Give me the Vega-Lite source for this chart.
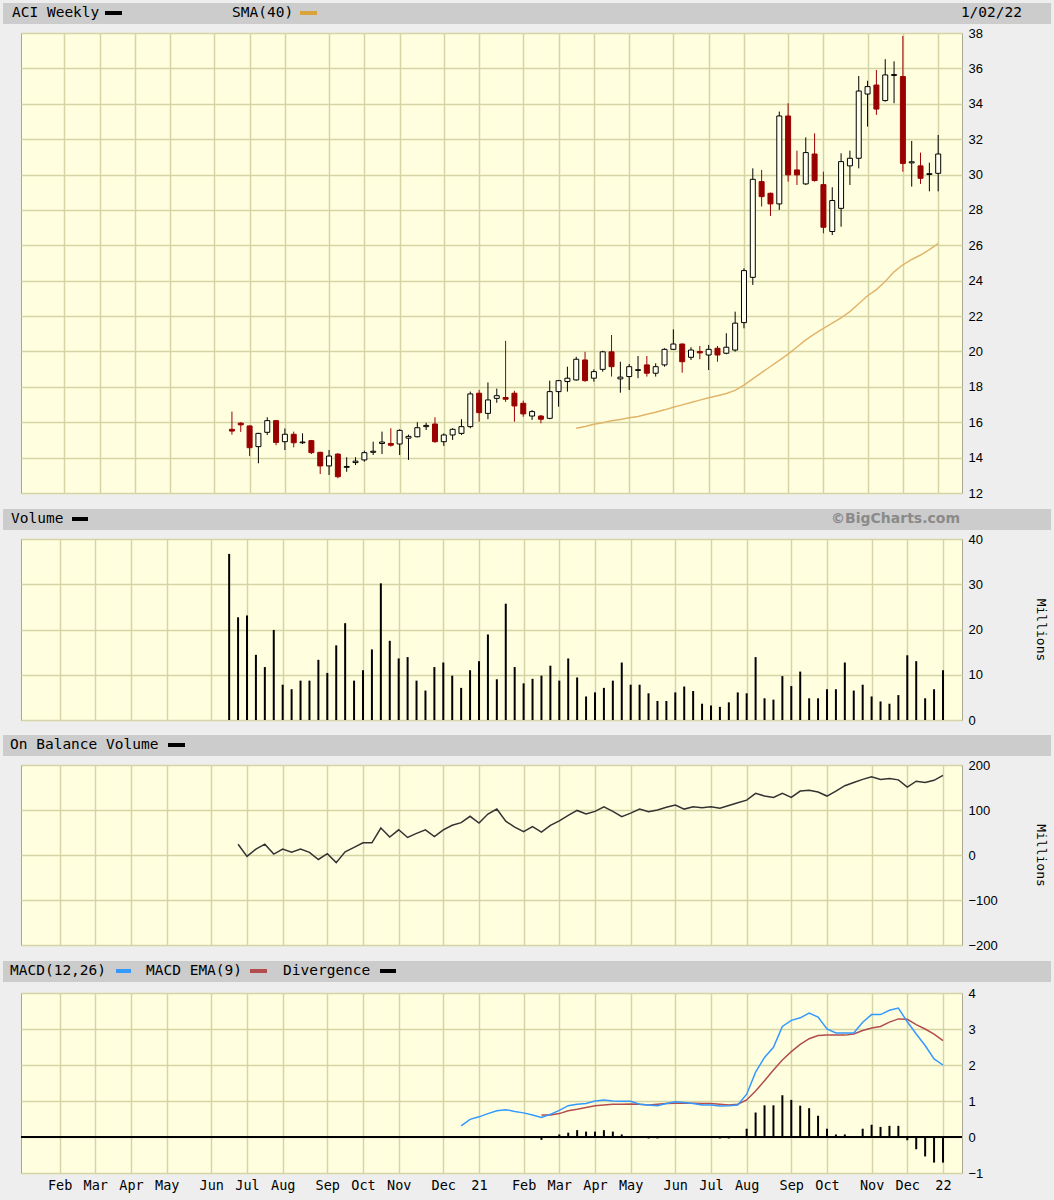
{
"$schema": "https://vega.github.io/schema/vega-lite/v6.json",
"background": "#eeeeee",
"padding": {"left": 3, "top": 3, "right": 3, "bottom": 8},
"spacing": 0,
"config": {
  "view": {"stroke": "#a8a890", "fill": "#ffffe0", "strokeWidth": 1},
  "axis": {"domain": false, "ticks": false, "gridColor": "#d4d4a4", "gridWidth": 1.5, "gridOpacity": 1, "labelFont": "Liberation Sans", "labelFontSize": 13, "labelColor": "#000000", "labelFlush": false, "labelOverlap": false, "titleFont": "DejaVu Sans Mono", "titleFontSize": 13, "titleFontWeight": "normal", "titleColor": "#000000"}
},
"datasets": {"w": [
{"date":"2020-06-21T00:00","open":15.6,"high":16.6,"low":15.3,"close":15.5,"volume":36.7},
{"date":"2020-06-28T00:00","open":15.95,"high":16.0,"low":15.45,"close":15.85,"volume":22.7,"obv":24},
{"date":"2020-07-05T00:00","open":15.79,"high":15.82,"low":14.09,"close":14.56,"volume":23.1,"obv":-3},
{"date":"2020-07-12T00:00","open":14.62,"high":15.4,"low":13.68,"close":15.37,"volume":14.4,"obv":13},
{"date":"2020-07-19T00:00","open":15.43,"high":16.28,"low":15.28,"close":16.09,"volume":11.7,"obv":24},
{"date":"2020-07-26T00:00","open":16.09,"high":16.12,"low":14.7,"close":14.86,"volume":19.9,"obv":2},
{"date":"2020-08-02T00:00","open":14.9,"high":15.65,"low":14.43,"close":15.32,"volume":7.8,"obv":13},
{"date":"2020-08-09T00:00","open":15.32,"high":15.47,"low":14.58,"close":14.84,"volume":6.8,"obv":6},
{"date":"2020-08-16T00:00","open":14.84,"high":15.37,"low":14.77,"close":14.88,"volume":8.7,"obv":13},
{"date":"2020-08-23T00:00","open":14.96,"high":15.0,"low":14.2,"close":14.28,"volume":8.7,"obv":6},
{"date":"2020-08-30T00:00","open":14.3,"high":14.33,"low":13.07,"close":13.53,"volume":13.3,"obv":-10},
{"date":"2020-09-06T00:00","open":13.53,"high":14.43,"low":13.02,"close":14.09,"volume":10.4,"obv":3},
{"date":"2020-09-13T00:00","open":14.2,"high":14.25,"low":12.83,"close":12.92,"volume":16.5,"obv":-17},
{"date":"2020-09-20T00:00","open":13.45,"high":14.02,"low":13.2,"close":13.5,"volume":21.4,"obv":7},
{"date":"2020-09-27T00:00","open":13.72,"high":14.02,"low":13.58,"close":13.8,"volume":8.7,"obv":17},
{"date":"2020-10-04T00:00","open":13.87,"high":14.39,"low":13.77,"close":14.28,"volume":11.0,"obv":27},
{"date":"2020-10-11T00:00","open":14.3,"high":14.9,"low":14.15,"close":14.36,"volume":15.6,"obv":27},
{"date":"2020-10-18T00:00","open":14.8,"high":15.47,"low":14.2,"close":14.88,"volume":30.2,"obv":60},
{"date":"2020-10-25T00:00","open":14.8,"high":15.66,"low":14.62,"close":14.7,"volume":17.5,"obv":40},
{"date":"2020-11-01T00:00","open":14.77,"high":15.6,"low":14.15,"close":15.54,"volume":13.6,"obv":56},
{"date":"2020-11-08T00:00","open":15.1,"high":15.3,"low":13.87,"close":15.2,"volume":13.9,"obv":39},
{"date":"2020-11-15T00:00","open":15.18,"high":16.0,"low":15.14,"close":15.69,"volume":8.7,"obv":48},
{"date":"2020-11-22T00:00","open":15.75,"high":15.97,"low":15.56,"close":15.82,"volume":6.5,"obv":56},
{"date":"2020-11-29T00:00","open":15.9,"high":16.28,"low":14.84,"close":14.9,"volume":11.7,"obv":41},
{"date":"2020-12-06T00:00","open":14.9,"high":15.37,"low":14.66,"close":15.28,"volume":12.7,"obv":56},
{"date":"2020-12-13T00:00","open":15.28,"high":15.66,"low":15.0,"close":15.6,"volume":9.8,"obv":66},
{"date":"2020-12-20T00:00","open":15.37,"high":16.17,"low":15.28,"close":15.75,"volume":7.1,"obv":72,"macd":0.31},
{"date":"2020-12-27T00:00","open":15.75,"high":17.73,"low":15.66,"close":17.6,"volume":11.0,"obv":86,"macd":0.49},
{"date":"2021-01-03T00:00","open":17.64,"high":17.82,"low":16.03,"close":16.54,"volume":13.0,"obv":71,"macd":0.56},
{"date":"2021-01-10T00:00","open":16.5,"high":18.25,"low":16.17,"close":17.26,"volume":18.9,"obv":91,"macd":0.65},
{"date":"2021-01-17T00:00","open":17.35,"high":17.9,"low":17.1,"close":17.5,"volume":9.0,"obv":102,"macd":0.73},
{"date":"2021-01-24T00:00","open":17.4,"high":20.6,"low":17.15,"close":17.3,"volume":25.7,"obv":75,"macd":0.76},
{"date":"2021-01-31T00:00","open":17.64,"high":17.78,"low":16.03,"close":16.92,"volume":11.7,"obv":62,"macd":0.71},
{"date":"2021-02-07T00:00","open":17.07,"high":17.22,"low":16.31,"close":16.47,"volume":8.1,"obv":52,"macd":0.67},
{"date":"2021-02-14T00:00","open":16.35,"high":16.69,"low":16.13,"close":16.6,"volume":9.1,"obv":63,"macd":0.61},
{"date":"2021-02-21T00:00","open":16.35,"high":16.41,"low":15.94,"close":16.17,"volume":9.8,"obv":51,"macd":0.54,"ema":0.61,"div":-0.08},
{"date":"2021-02-28T00:00","open":16.22,"high":18.35,"low":16.17,"close":17.73,"volume":12.0,"obv":66,"macd":0.63,"ema":0.61},
{"date":"2021-03-07T00:00","open":17.73,"high":18.39,"low":16.88,"close":18.35,"volume":8.7,"obv":76,"macd":0.74,"ema":0.65,"div":0.07},
{"date":"2021-03-14T00:00","open":18.3,"high":19.14,"low":17.73,"close":18.49,"volume":13.6,"obv":88,"macd":0.87,"ema":0.73,"div":0.12},
{"date":"2021-03-21T00:00","open":18.39,"high":19.7,"low":18.35,"close":19.56,"volume":9.4,"obv":99,"sma":15.66,"macd":0.91,"ema":0.77,"div":0.19},
{"date":"2021-03-28T00:00","open":19.52,"high":19.98,"low":18.29,"close":18.35,"volume":5.2,"obv":91,"sma":15.76,"macd":0.93,"ema":0.82,"div":0.15},
{"date":"2021-04-04T00:00","open":18.49,"high":18.99,"low":18.29,"close":18.86,"volume":6.1,"obv":97,"sma":15.88,"macd":1.0,"ema":0.87,"div":0.15},
{"date":"2021-04-11T00:00","open":18.99,"high":20.04,"low":18.86,"close":19.98,"volume":7.1,"obv":107,"sma":15.97,"macd":1.03,"ema":0.89,"div":0.19},
{"date":"2021-04-18T00:00","open":19.98,"high":20.93,"low":18.58,"close":19.14,"volume":8.7,"obv":97,"sma":16.08,"macd":1.0,"ema":0.91,"div":0.15},
{"date":"2021-04-25T00:00","open":18.45,"high":19.42,"low":17.67,"close":18.55,"volume":12.7,"obv":85,"sma":16.16,"macd":0.99,"ema":0.91,"div":0.07},
{"date":"2021-05-02T00:00","open":18.58,"high":19.29,"low":17.82,"close":19.14,"volume":7.8,"obv":93,"sma":16.25,"macd":0.99,"ema":0.92},
{"date":"2021-05-09T00:00","open":18.93,"high":19.74,"low":18.49,"close":18.97,"volume":7.8,"obv":102,"sma":16.33,"macd":0.91,"ema":0.91},
{"date":"2021-05-16T00:00","open":19.24,"high":19.74,"low":18.58,"close":18.77,"volume":5.9,"obv":96,"sma":16.45,"macd":0.89,"ema":0.89,"div":-0.04},
{"date":"2021-05-23T00:00","open":18.77,"high":19.33,"low":18.58,"close":19.14,"volume":4.2,"obv":100,"sma":16.57,"macd":0.87,"ema":0.91,"div":-0.04},
{"date":"2021-05-30T00:00","open":19.24,"high":20.18,"low":19.14,"close":20.12,"volume":4.2,"obv":106,"sma":16.7,"macd":0.93,"ema":0.93},
{"date":"2021-06-06T00:00","open":20.12,"high":21.25,"low":20.08,"close":20.42,"volume":6.1,"obv":111,"sma":16.85,"macd":0.98,"ema":0.94},
{"date":"2021-06-13T00:00","open":20.42,"high":20.45,"low":18.8,"close":19.42,"volume":7.4,"obv":102,"sma":16.98,"macd":0.96,"ema":0.94},
{"date":"2021-06-20T00:00","open":19.67,"high":20.24,"low":19.52,"close":20.08,"volume":6.4,"obv":107,"sma":17.12,"macd":0.93,"ema":0.94},
{"date":"2021-06-27T00:00","open":20.0,"high":20.31,"low":19.56,"close":19.92,"volume":3.6,"obv":105,"sma":17.25,"macd":0.89,"ema":0.93},
{"date":"2021-07-04T00:00","open":19.8,"high":20.37,"low":18.95,"close":20.12,"volume":3.2,"obv":107,"sma":17.38,"macd":0.89,"ema":0.93},
{"date":"2021-07-11T00:00","open":20.18,"high":20.31,"low":19.42,"close":19.8,"volume":2.9,"obv":104,"sma":17.5,"macd":0.86,"ema":0.91,"div":-0.04},
{"date":"2021-07-18T00:00","open":19.9,"high":21.03,"low":19.84,"close":20.24,"volume":3.9,"obv":110,"sma":17.62,"macd":0.87,"ema":0.89,"div":-0.04},
{"date":"2021-07-25T00:00","open":20.08,"high":22.25,"low":19.99,"close":21.6,"volume":6.1,"obv":116,"sma":17.8,"macd":0.89,"ema":0.91},
{"date":"2021-08-01T00:00","open":21.63,"high":24.7,"low":21.31,"close":24.57,"volume":5.9,"obv":122,"sma":18.1,"macd":1.19,"ema":1.03,"div":0.23},
{"date":"2021-08-08T00:00","open":24.19,"high":30.35,"low":23.76,"close":29.73,"volume":13.9,"obv":137,"sma":18.45,"macd":1.8,"ema":1.28,"div":0.68},
{"date":"2021-08-15T00:00","open":29.6,"high":30.26,"low":28.19,"close":28.75,"volume":4.8,"obv":131,"sma":18.8,"macd":2.21,"ema":1.56,"div":0.88},
{"date":"2021-08-22T00:00","open":28.94,"high":28.98,"low":27.66,"close":28.34,"volume":4.5,"obv":128,"sma":19.15,"macd":2.49,"ema":1.86,"div":0.88},
{"date":"2021-08-29T00:00","open":28.34,"high":33.56,"low":28.0,"close":33.31,"volume":9.7,"obv":137,"sma":19.5,"macd":3.07,"ema":2.14,"div":1.16},
{"date":"2021-09-05T00:00","open":33.31,"high":34.03,"low":29.6,"close":29.98,"volume":7.5,"obv":128,"sma":19.85,"macd":3.24,"ema":2.37,"div":1.03},
{"date":"2021-09-12T00:00","open":30.26,"high":31.35,"low":29.41,"close":29.98,"volume":10.7,"obv":142,"sma":20.25,"macd":3.31,"ema":2.57,"div":0.87},
{"date":"2021-09-19T00:00","open":29.47,"high":32.1,"low":29.41,"close":31.24,"volume":4.8,"obv":144,"sma":20.65,"macd":3.44,"ema":2.73,"div":0.8},
{"date":"2021-09-26T00:00","open":31.16,"high":32.33,"low":29.6,"close":29.66,"volume":4.8,"obv":140,"sma":21.0,"macd":3.33,"ema":2.82,"div":0.59},
{"date":"2021-10-03T00:00","open":29.43,"high":30.16,"low":26.68,"close":27.02,"volume":6.8,"obv":131,"sma":21.3,"macd":3.0,"ema":2.83,"div":0.23},
{"date":"2021-10-10T00:00","open":26.78,"high":29.28,"low":26.58,"close":28.53,"volume":6.8,"obv":142,"sma":21.6,"macd":2.89,"ema":2.83,"div":0.07},
{"date":"2021-10-17T00:00","open":28.09,"high":31.2,"low":27.05,"close":30.73,"volume":12.7,"obv":154,"sma":21.9,"macd":2.89,"ema":2.83,"div":0.07},
{"date":"2021-10-24T00:00","open":30.49,"high":31.35,"low":29.41,"close":30.92,"volume":6.5,"obv":161,"sma":22.25,"macd":2.89,"ema":2.86},
{"date":"2021-10-31T00:00","open":30.92,"high":35.57,"low":30.35,"close":34.72,"volume":7.8,"obv":168,"sma":22.7,"macd":3.19,"ema":2.96,"div":0.23},
{"date":"2021-11-07T00:00","open":34.55,"high":35.3,"low":32.71,"close":34.97,"volume":5.2,"obv":174,"sma":23.15,"macd":3.4,"ema":3.03,"div":0.34},
{"date":"2021-11-14T00:00","open":35.06,"high":35.91,"low":33.37,"close":33.7,"volume":4.1,"obv":168,"sma":23.5,"macd":3.4,"ema":3.07,"div":0.28},
{"date":"2021-11-21T00:00","open":34.18,"high":36.52,"low":34.12,"close":35.63,"volume":3.6,"obv":170,"sma":23.95,"macd":3.52,"ema":3.19,"div":0.31},
{"date":"2021-11-28T00:00","open":35.6,"high":36.4,"low":34.03,"close":35.65,"volume":5.5,"obv":167,"sma":24.5,"macd":3.58,"ema":3.28,"div":0.31},
{"date":"2021-12-05T00:00","open":35.54,"high":37.83,"low":30.16,"close":30.63,"volume":14.3,"obv":151,"sma":24.9,"macd":3.2,"ema":3.27,"div":-0.09},
{"date":"2021-12-12T00:00","open":30.66,"high":31.9,"low":29.32,"close":30.72,"volume":13.0,"obv":164,"sma":25.2,"macd":2.86,"ema":3.12,"div":-0.34},
{"date":"2021-12-19T00:00","open":30.49,"high":31.24,"low":29.47,"close":29.79,"volume":4.8,"obv":161,"sma":25.45,"macd":2.54,"ema":3.0,"div":-0.54},
{"date":"2021-12-26T00:00","open":30.0,"high":30.67,"low":29.05,"close":30.05,"volume":6.8,"obv":166,"sma":25.75,"macd":2.17,"ema":2.86,"div":-0.71},
{"date":"2022-01-02T00:00","open":30.07,"high":32.24,"low":29.05,"close":31.16,"volume":11.0,"obv":177,"sma":26.1,"macd":2.0,"ema":2.68,"div":-0.71}
]},
"vconcat": [
{
  "width": 1030, "height": 21,
  "view": {"fill": "#cccccc", "stroke": null},
  "data": {"values": [{}]},
  "layer": [
    {"mark": {"type": "rect", "color": "#cccccc"}, "encoding": {"x": {"value": -18}, "x2": {"value": 0}, "y": {"value": 0}, "y2": {"value": 21}}},
    {"mark": {"type": "text", "text": "ACI Weekly", "align": "left", "baseline": "middle", "font": "DejaVu Sans Mono", "fontSize": 14.5, "color": "#000000"}, "encoding": {"x": {"value": -9}, "y": {"value": 10}}},
    {"mark": {"type": "rule", "strokeWidth": 4, "color": "#000000"}, "encoding": {"x": {"value": 84}, "x2": {"value": 101}, "y": {"value": 10}}},
    {"mark": {"type": "text", "text": "SMA(40)", "align": "left", "baseline": "middle", "font": "DejaVu Sans Mono", "fontSize": 14.5, "color": "#000000"}, "encoding": {"x": {"value": 211}, "y": {"value": 10}}},
    {"mark": {"type": "rule", "strokeWidth": 4, "color": "#d9a43c"}, "encoding": {"x": {"value": 279}, "x2": {"value": 296}, "y": {"value": 10}}},
    {"mark": {"type": "text", "text": "1/02/22", "align": "right", "baseline": "middle", "font": "DejaVu Sans Mono", "fontSize": 14.5, "color": "#000000"}, "encoding": {"x": {"value": 1001}, "y": {"value": 10}}}
  ]
},
{
  "width": 941, "height": 460,
  "data": {"name": "w"},
  "resolve": {"axis": {"x": "independent", "y": "independent"}},
  "layer": [
    {
      "transform": [{"filter": "false"}],
      "mark": "rule",
      "encoding": {
        "x": {"field": "date", "type": "temporal", "scale": {"domain": [{"year":2020,"month":1,"date":9,"hours":17},{"year":2022,"month":1,"date":16,"hours":22}]}, "axis": {"orient": "top", "labels": false, "grid": false, "title": null, "minExtent": 8, "maxExtent": 8}},
        "y": {"field": "low", "type": "quantitative", "scale": {"domain": [12, 38], "zero": false, "nice": false}, "axis": null}
      }
    },
    {
      "mark": {"type": "rule", "strokeWidth": 1},
      "encoding": {
        "x": {"field": "date", "type": "temporal", "scale": {"domain": [{"year":2020,"month":1,"date":9,"hours":17},{"year":2022,"month":1,"date":16,"hours":22}]}, "axis": {"orient": "bottom", "labels": false, "grid": true, "title": null, "minExtent": 15, "maxExtent": 15, "values": [{"year":2020,"month":2,"date":9},{"year":2020,"month":3,"date":8},{"year":2020,"month":4,"date":5},{"year":2020,"month":5,"date":3},{"year":2020,"month":6,"date":7},{"year":2020,"month":7,"date":5},{"year":2020,"month":8,"date":2},{"year":2020,"month":9,"date":6},{"year":2020,"month":10,"date":4},{"year":2020,"month":11,"date":1},{"year":2020,"month":12,"date":6},{"year":2021,"month":1,"date":3},{"year":2021,"month":2,"date":7},{"year":2021,"month":3,"date":7},{"year":2021,"month":4,"date":4},{"year":2021,"month":5,"date":2},{"year":2021,"month":6,"date":6},{"year":2021,"month":7,"date":4},{"year":2021,"month":8,"date":1},{"year":2021,"month":9,"date":5},{"year":2021,"month":10,"date":3},{"year":2021,"month":11,"date":7},{"year":2021,"month":12,"date":5},{"year":2022,"month":1,"date":2}]}},
        "y": {"field": "low", "type": "quantitative", "scale": {"domain": [12, 38], "zero": false, "nice": false}, "axis": {"orient": "right", "grid": true, "title": null, "labelPadding": 6, "values": [12,14,16,18,20,22,24,26,28,30,32,34,36,38]}},
        "y2": {"field": "high"},
        "color": {"condition": {"test": "datum.close < datum.open", "value": "#990000"}, "value": "#000000"}
      }
    },
    {
      "mark": {"type": "bar", "width": 5, "strokeWidth": 1},
      "encoding": {
        "x": {"field": "date", "type": "temporal", "scale": {"domain": [{"year":2020,"month":1,"date":9,"hours":17},{"year":2022,"month":1,"date":16,"hours":22}]}, "axis": null},
        "y": {"field": "open", "type": "quantitative", "scale": {"domain": [12, 38], "zero": false, "nice": false}, "axis": null},
        "y2": {"field": "close"},
        "fill": {"condition": {"test": "datum.close < datum.open", "value": "#990000"}, "value": "#fffff0"},
        "stroke": {"condition": {"test": "datum.close < datum.open", "value": "#990000"}, "value": "#000000"}
      }
    },
    {
      "mark": {"type": "line", "color": "#e2b46a", "strokeWidth": 1.5},
      "encoding": {
        "x": {"field": "date", "type": "temporal", "scale": {"domain": [{"year":2020,"month":1,"date":9,"hours":17},{"year":2022,"month":1,"date":16,"hours":22}]}, "axis": null},
        "y": {"field": "sma", "type": "quantitative", "scale": {"domain": [12, 38], "zero": false, "nice": false}, "axis": null}
      }
    }
  ]
},
{
  "width": 1030, "height": 21,
  "view": {"fill": "#cccccc", "stroke": null},
  "data": {"values": [{}]},
  "layer": [
    {"mark": {"type": "rect", "color": "#cccccc"}, "encoding": {"x": {"value": -18}, "x2": {"value": 0}, "y": {"value": 0}, "y2": {"value": 21}}},
    {"mark": {"type": "text", "text": "Volume", "align": "left", "baseline": "middle", "font": "DejaVu Sans Mono", "fontSize": 14.5, "color": "#000000"}, "encoding": {"x": {"value": -10}, "y": {"value": 10}}},
    {"mark": {"type": "rule", "strokeWidth": 4, "color": "#000000"}, "encoding": {"x": {"value": 51}, "x2": {"value": 67}, "y": {"value": 10}}},
    {"mark": {"type": "text", "text": "©BigCharts.com", "align": "right", "baseline": "middle", "font": "DejaVu Sans", "fontWeight": "bold", "fontSize": 14, "color": "#8a8a8a"}, "encoding": {"x": {"value": 939}, "y": {"value": 10}}}
  ]
},
{
  "width": 941, "height": 181,
  "data": {"name": "w"},
  "resolve": {"axis": {"x": "independent", "y": "independent"}},
  "layer": [
    {
      "transform": [{"filter": "false"}],
      "mark": "rule",
      "encoding": {
        "x": {"field": "date", "type": "temporal", "scale": {"domain": [{"year":2020,"month":1,"date":9,"hours":17},{"year":2022,"month":1,"date":16,"hours":22}]}, "axis": {"orient": "top", "labels": false, "grid": false, "title": null, "minExtent": 8, "maxExtent": 8}},
        "y": {"field": "volume", "type": "quantitative", "scale": {"domain": [0, 40], "nice": false}, "axis": null}
      }
    },
    {
      "mark": {"type": "rule", "strokeWidth": 2, "color": "#000000"},
      "encoding": {
        "x": {"field": "date", "type": "temporal", "scale": {"domain": [{"year":2020,"month":1,"date":9,"hours":17},{"year":2022,"month":1,"date":16,"hours":22}]}, "axis": {"orient": "bottom", "labels": false, "grid": true, "title": null, "minExtent": 14, "maxExtent": 14, "values": [{"year":2020,"month":2,"date":9},{"year":2020,"month":3,"date":8},{"year":2020,"month":4,"date":5},{"year":2020,"month":5,"date":3},{"year":2020,"month":6,"date":7},{"year":2020,"month":7,"date":5},{"year":2020,"month":8,"date":2},{"year":2020,"month":9,"date":6},{"year":2020,"month":10,"date":4},{"year":2020,"month":11,"date":1},{"year":2020,"month":12,"date":6},{"year":2021,"month":1,"date":3},{"year":2021,"month":2,"date":7},{"year":2021,"month":3,"date":7},{"year":2021,"month":4,"date":4},{"year":2021,"month":5,"date":2},{"year":2021,"month":6,"date":6},{"year":2021,"month":7,"date":4},{"year":2021,"month":8,"date":1},{"year":2021,"month":9,"date":5},{"year":2021,"month":10,"date":3},{"year":2021,"month":11,"date":7},{"year":2021,"month":12,"date":5},{"year":2022,"month":1,"date":2}]}},
        "y": {"field": "volume", "type": "quantitative", "scale": {"domain": [0, 40], "nice": false}, "axis": {"orient": "right", "grid": true, "title": "Millions", "titleAngle": 90, "titlePadding": 31, "minExtent": 40, "maxExtent": 40, "labelPadding": 6, "values": [0, 10, 20, 30, 40]}},
        "y2": {"datum": 0}
      }
    }
  ]
},
{
  "width": 1030, "height": 21,
  "view": {"fill": "#cccccc", "stroke": null},
  "data": {"values": [{}]},
  "layer": [
    {"mark": {"type": "rect", "color": "#cccccc"}, "encoding": {"x": {"value": -18}, "x2": {"value": 0}, "y": {"value": 0}, "y2": {"value": 21}}},
    {"mark": {"type": "text", "text": "On Balance Volume", "align": "left", "baseline": "middle", "font": "DejaVu Sans Mono", "fontSize": 14.5, "color": "#000000"}, "encoding": {"x": {"value": -11}, "y": {"value": 10}}},
    {"mark": {"type": "rule", "strokeWidth": 4, "color": "#000000"}, "encoding": {"x": {"value": 147}, "x2": {"value": 164}, "y": {"value": 10}}}
  ]
},
{
  "width": 941, "height": 180,
  "data": {"name": "w"},
  "resolve": {"axis": {"x": "independent", "y": "independent"}},
  "layer": [
    {
      "transform": [{"filter": "false"}],
      "mark": "rule",
      "encoding": {
        "x": {"field": "date", "type": "temporal", "scale": {"domain": [{"year":2020,"month":1,"date":9,"hours":17},{"year":2022,"month":1,"date":16,"hours":22}]}, "axis": {"orient": "top", "labels": false, "grid": false, "title": null, "minExtent": 8, "maxExtent": 8}},
        "y": {"field": "obv", "type": "quantitative", "scale": {"domain": [-200, 200], "nice": false}, "axis": null}
      }
    },
    {
      "mark": {"type": "line", "color": "#333333", "strokeWidth": 1.5},
      "encoding": {
        "x": {"field": "date", "type": "temporal", "scale": {"domain": [{"year":2020,"month":1,"date":9,"hours":17},{"year":2022,"month":1,"date":16,"hours":22}]}, "axis": {"orient": "bottom", "labels": false, "grid": true, "title": null, "minExtent": 15, "maxExtent": 15, "values": [{"year":2020,"month":2,"date":9},{"year":2020,"month":3,"date":8},{"year":2020,"month":4,"date":5},{"year":2020,"month":5,"date":3},{"year":2020,"month":6,"date":7},{"year":2020,"month":7,"date":5},{"year":2020,"month":8,"date":2},{"year":2020,"month":9,"date":6},{"year":2020,"month":10,"date":4},{"year":2020,"month":11,"date":1},{"year":2020,"month":12,"date":6},{"year":2021,"month":1,"date":3},{"year":2021,"month":2,"date":7},{"year":2021,"month":3,"date":7},{"year":2021,"month":4,"date":4},{"year":2021,"month":5,"date":2},{"year":2021,"month":6,"date":6},{"year":2021,"month":7,"date":4},{"year":2021,"month":8,"date":1},{"year":2021,"month":9,"date":5},{"year":2021,"month":10,"date":3},{"year":2021,"month":11,"date":7},{"year":2021,"month":12,"date":5},{"year":2022,"month":1,"date":2}]}},
        "y": {"field": "obv", "type": "quantitative", "scale": {"domain": [-200, 200], "nice": false}, "axis": {"orient": "right", "grid": true, "title": "Millions", "titleAngle": 90, "titlePadding": 31, "minExtent": 40, "maxExtent": 40, "labelPadding": 6, "values": [-200, -100, 0, 100, 200]}}
      }
    }
  ]
},
{
  "width": 1030, "height": 21,
  "view": {"fill": "#cccccc", "stroke": null},
  "data": {"values": [{}]},
  "layer": [
    {"mark": {"type": "rect", "color": "#cccccc"}, "encoding": {"x": {"value": -18}, "x2": {"value": 0}, "y": {"value": 0}, "y2": {"value": 21}}},
    {"mark": {"type": "text", "text": "MACD(12,26)", "align": "left", "baseline": "middle", "font": "DejaVu Sans Mono", "fontSize": 14.5, "color": "#000000"}, "encoding": {"x": {"value": -11}, "y": {"value": 10}}},
    {"mark": {"type": "rule", "strokeWidth": 4, "color": "#3399ff"}, "encoding": {"x": {"value": 95}, "x2": {"value": 110}, "y": {"value": 10}}},
    {"mark": {"type": "text", "text": "MACD EMA(9)", "align": "left", "baseline": "middle", "font": "DejaVu Sans Mono", "fontSize": 14.5, "color": "#000000"}, "encoding": {"x": {"value": 125}, "y": {"value": 10}}},
    {"mark": {"type": "rule", "strokeWidth": 4, "color": "#b34d4d"}, "encoding": {"x": {"value": 229}, "x2": {"value": 246}, "y": {"value": 10}}},
    {"mark": {"type": "text", "text": "Divergence", "align": "left", "baseline": "middle", "font": "DejaVu Sans Mono", "fontSize": 14.5, "color": "#000000"}, "encoding": {"x": {"value": 262}, "y": {"value": 10}}},
    {"mark": {"type": "rule", "strokeWidth": 4, "color": "#000000"}, "encoding": {"x": {"value": 359}, "x2": {"value": 375}, "y": {"value": 10}}}
  ]
},
{
  "width": 941, "height": 180,
  "data": {"name": "w"},
  "resolve": {"axis": {"x": "independent", "y": "independent"}},
  "layer": [
    {
      "transform": [{"filter": "false"}],
      "mark": "rule",
      "encoding": {
        "x": {"field": "date", "type": "temporal", "scale": {"domain": [{"year":2020,"month":1,"date":9,"hours":17},{"year":2022,"month":1,"date":16,"hours":22}]}, "axis": {"orient": "top", "labels": false, "grid": false, "title": null, "minExtent": 10, "maxExtent": 10}},
        "y": {"field": "macd", "type": "quantitative", "scale": {"domain": [-1, 4], "nice": false, "zero": false}, "axis": null}
      }
    },
    {
      "data": {"values": [{"z": 0}]},
      "mark": {"type": "rule", "color": "#000000", "strokeWidth": 2},
      "encoding": {
        "y": {"field": "z", "type": "quantitative", "scale": {"domain": [-1, 4], "nice": false, "zero": false}, "axis": null}
      }
    },
    {
      "mark": {"type": "rule", "strokeWidth": 2, "color": "#000000"},
      "encoding": {
        "x": {"field": "date", "type": "temporal", "scale": {"domain": [{"year":2020,"month":1,"date":9,"hours":17},{"year":2022,"month":1,"date":16,"hours":22}]}, "axis": {"orient": "bottom", "labels": true, "grid": true, "title": null, "labelFont": "DejaVu Sans Mono", "labelFontSize": 13.5, "labelPadding": 5, "labelExpr": "month(datum.value) == 0 ? timeFormat(datum.value, '%y') : timeFormat(datum.value, '%b')", "values": [{"year":2020,"month":2,"date":9},{"year":2020,"month":3,"date":8},{"year":2020,"month":4,"date":5},{"year":2020,"month":5,"date":3},{"year":2020,"month":6,"date":7},{"year":2020,"month":7,"date":5},{"year":2020,"month":8,"date":2},{"year":2020,"month":9,"date":6},{"year":2020,"month":10,"date":4},{"year":2020,"month":11,"date":1},{"year":2020,"month":12,"date":6},{"year":2021,"month":1,"date":3},{"year":2021,"month":2,"date":7},{"year":2021,"month":3,"date":7},{"year":2021,"month":4,"date":4},{"year":2021,"month":5,"date":2},{"year":2021,"month":6,"date":6},{"year":2021,"month":7,"date":4},{"year":2021,"month":8,"date":1},{"year":2021,"month":9,"date":5},{"year":2021,"month":10,"date":3},{"year":2021,"month":11,"date":7},{"year":2021,"month":12,"date":5},{"year":2022,"month":1,"date":2}]}},
        "y": {"field": "div", "type": "quantitative", "scale": {"domain": [-1, 4], "nice": false, "zero": false}, "axis": {"orient": "right", "grid": true, "title": null, "labelPadding": 6, "values": [-1, 0, 1, 2, 3, 4]}},
        "y2": {"datum": 0}
      }
    },
    {
      "mark": {"type": "line", "color": "#b34d4d", "strokeWidth": 1.5},
      "encoding": {
        "x": {"field": "date", "type": "temporal", "scale": {"domain": [{"year":2020,"month":1,"date":9,"hours":17},{"year":2022,"month":1,"date":16,"hours":22}]}, "axis": null},
        "y": {"field": "ema", "type": "quantitative", "scale": {"domain": [-1, 4], "nice": false, "zero": false}, "axis": null}
      }
    },
    {
      "mark": {"type": "line", "color": "#3399ff", "strokeWidth": 1.5},
      "encoding": {
        "x": {"field": "date", "type": "temporal", "scale": {"domain": [{"year":2020,"month":1,"date":9,"hours":17},{"year":2022,"month":1,"date":16,"hours":22}]}, "axis": null},
        "y": {"field": "macd", "type": "quantitative", "scale": {"domain": [-1, 4], "nice": false, "zero": false}, "axis": null}
      }
    }
  ]
}
]
}
